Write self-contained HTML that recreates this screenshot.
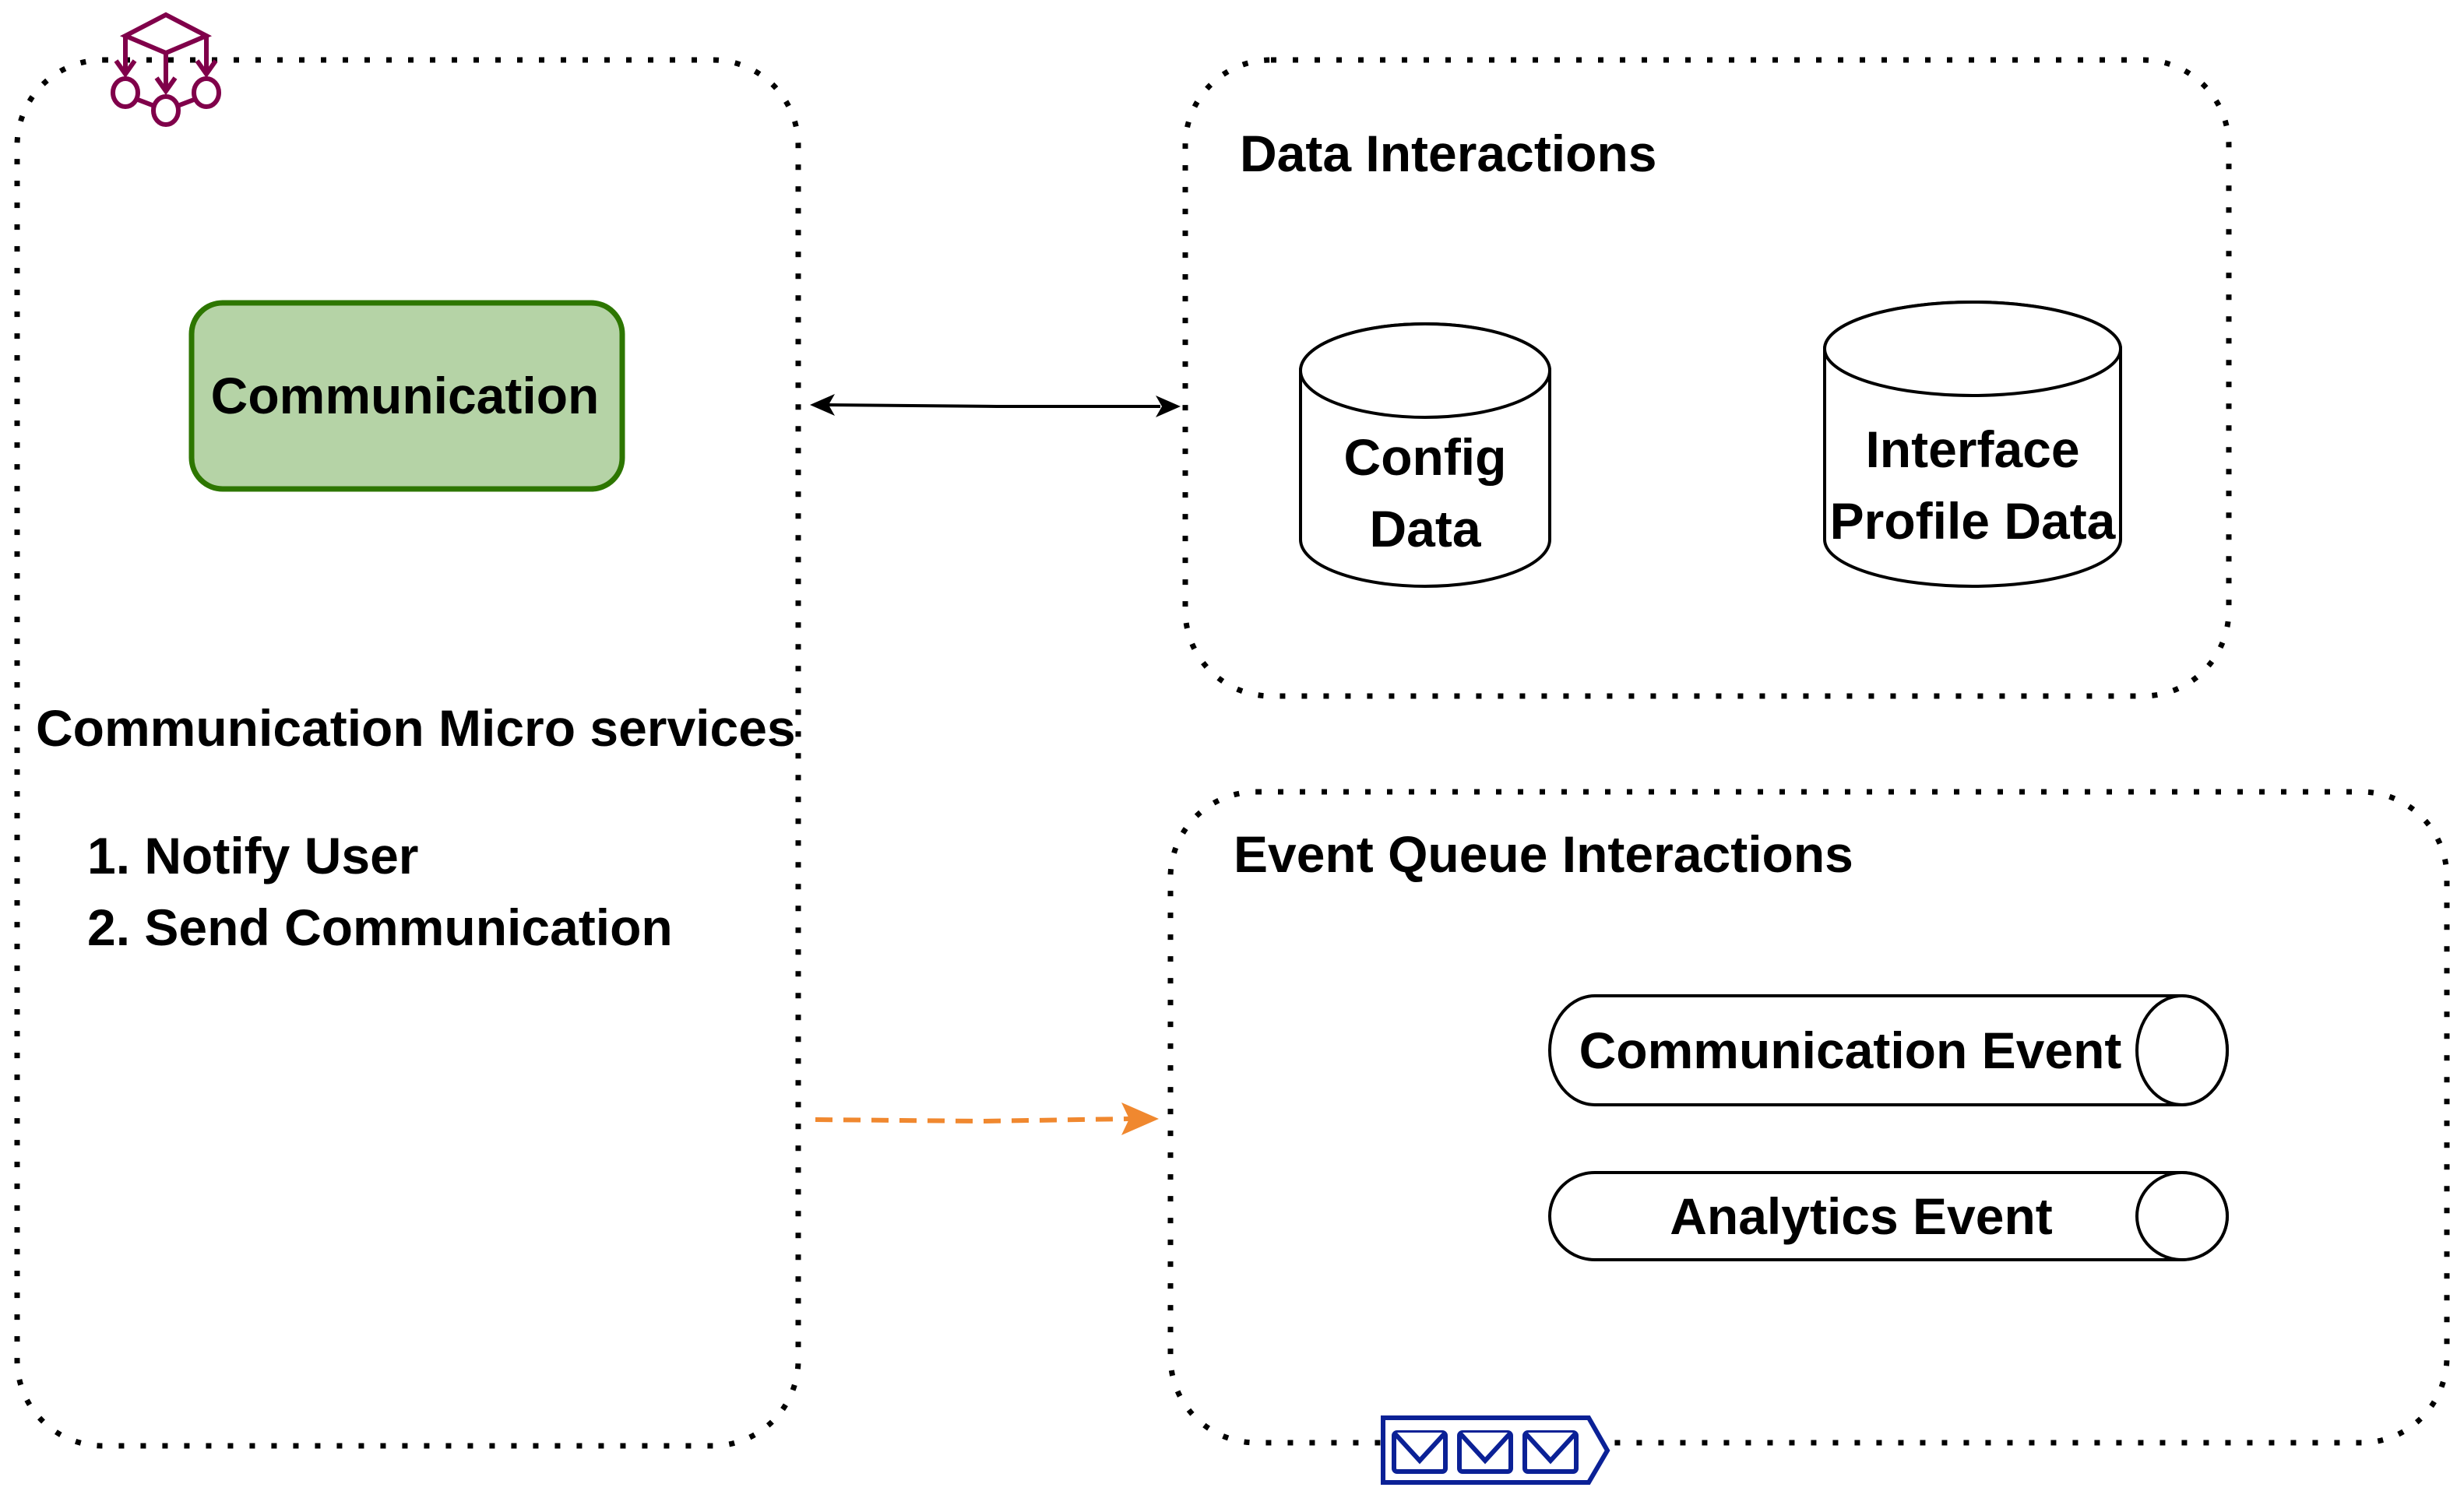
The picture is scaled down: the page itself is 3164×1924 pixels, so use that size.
<!DOCTYPE html>
<html><head><meta charset="utf-8"><style>html,body{margin:0;padding:0;background:#fff}svg{display:block}text{font-family:"Liberation Sans",sans-serif;font-weight:bold;fill:#000}</style></head>
<body>
<svg width="3164" height="1924" viewBox="0 0 3164 1924" xmlns="http://www.w3.org/2000/svg">
<g fill="none" stroke="#000" stroke-width="7" stroke-dasharray="7 21">
<rect x="22" y="77" width="1003" height="1780" rx="110"/>
<rect x="1522" y="77" width="1340" height="817" rx="110"/>
<rect x="1503" y="1017" width="1639" height="836" rx="110"/>
</g>
<rect x="246" y="389" width="553" height="239" rx="40" fill="#b5d3a6" stroke="#2d7600" stroke-width="7"/>
<text x="520" y="531" font-size="66" text-anchor="middle">Communication</text>
<text x="46" y="958" font-size="66">Communication Micro services</text>
<text x="112" y="1122" font-size="66">1. Notify User</text>
<text x="112" y="1214" font-size="66">2. Send Communication</text>
<text x="1592" y="220" font-size="66">Data Interactions</text>
<text x="1584" y="1120" font-size="66">Event Queue Interactions</text>
<g fill="#fff" stroke="#000" stroke-width="4">
<path d="M1670 476 L1670 693 A160 60 0 0 0 1990 693 L1990 476 A160 60 0 0 0 1670 476 Z"/>
<ellipse cx="1830" cy="476" rx="160" ry="60"/>
<path d="M2343 448 L2343 693 A190 60 0 0 0 2723 693 L2723 448 A190 60 0 0 0 2343 448 Z"/>
<ellipse cx="2533" cy="448" rx="190" ry="60"/>
<path d="M2048 1279 L2802 1279 A58 70 0 0 1 2802 1419 L2048 1419 A58 70 0 0 1 2048 1279 Z"/>
<ellipse cx="2802" cy="1349" rx="58" ry="70"/>
<path d="M2048 1506 L2802 1506 A58 56 0 0 1 2802 1618 L2048 1618 A58 56 0 0 1 2048 1506 Z"/>
<ellipse cx="2802" cy="1562" rx="58" ry="56"/>
</g>
<text x="1830" y="610" font-size="66" text-anchor="middle">Config</text>
<text x="1830" y="702" font-size="66" text-anchor="middle">Data</text>
<text x="2533" y="600" font-size="66" text-anchor="middle">Interface</text>
<text x="2533" y="692" font-size="66" text-anchor="middle">Profile Data</text>
<text x="2376" y="1372" font-size="66" text-anchor="middle">Communication Event</text>
<text x="2390" y="1585" font-size="66" text-anchor="middle">Analytics Event</text>
<!-- arrows -->
<path d="M1060 520 L1280 522 L1490 522" fill="none" stroke="#000" stroke-width="4"/>
<path d="M1040 520 L1072 506 L1064 520 L1072 534 Z" fill="#000"/>
<path d="M1516 522 L1484 508 L1492 522 L1484 536 Z" fill="#000"/>
<path d="M1047 1438 L1260 1440 L1450 1437" fill="none" stroke="#f0882f" stroke-width="6" stroke-dasharray="22 14"/>
<path d="M1488 1437 L1440 1416 L1450 1437 L1440 1458 Z" fill="#f0882f"/>
<!-- top icon -->
<g fill="none" stroke="#80004a" stroke-width="6">
<path d="M161 46 L213 19 L265 46 L213 68 Z"/>
<path d="M161 46 L161 94 M213 68 L213 116 M265 46 L265 94"/>
<path d="M149 78 L161 95 L173 78 M201 100 L213 117 L225 100 M253 78 L265 95 L277 78"/>
<ellipse cx="161" cy="119" rx="16" ry="18"/>
<ellipse cx="213" cy="142" rx="16" ry="18"/>
<ellipse cx="265" cy="119" rx="16" ry="18"/>
<path d="M177 128 L198 136 M228 136 L249 128"/>
</g>
<!-- queue icon -->
<g fill="#fff" stroke="#0b2196" stroke-width="6">
<path d="M1776 1821 L2040 1821 L2064 1863 L2040 1904 L1776 1904 Z"/>
<rect x="1790" y="1840" width="66" height="50" rx="4"/>
<rect x="1874" y="1840" width="66" height="50" rx="4"/>
<rect x="1958" y="1840" width="66" height="50" rx="4"/>
<path d="M1790 1840 L1823 1876 L1856 1840 M1874 1840 L1907 1876 L1940 1840 M1958 1840 L1991 1876 L2024 1840"/>
</g>
</svg>
</body></html>
